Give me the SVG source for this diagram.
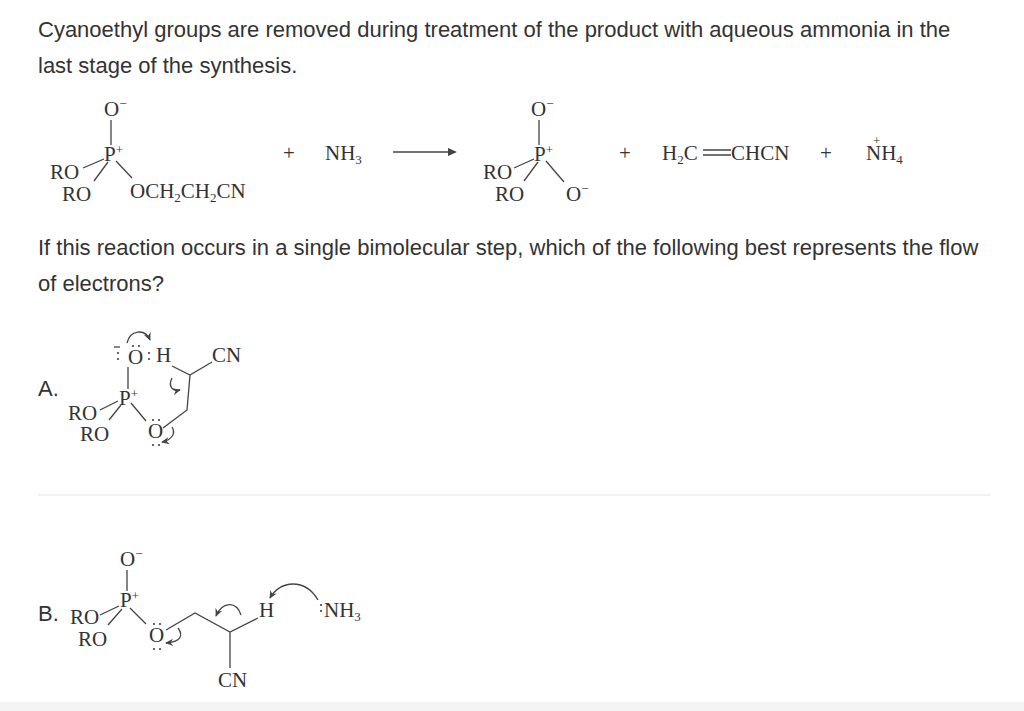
<svg xmlns="http://www.w3.org/2000/svg" width="1024" height="711" viewBox="0 0 1024 711">
<defs>
<style>
.q{font-family:"Liberation Sans",Arial,sans-serif;font-size:22px;fill:#333}
.c{font-family:"Liberation Serif","Times New Roman",serif;font-size:21px;fill:#333}
.s{font-size:13px}
.b{stroke:#444;stroke-width:1.3;fill:none}
.a{stroke:#444;stroke-width:1.3;fill:none;marker-end:url(#h)}
.d{fill:#444}
</style>
<marker id="h" viewBox="0 0 10 10" refX="8" refY="5" markerWidth="7" markerHeight="7" orient="auto"><path d="M0,1 L9,5 L0,9 L3,5 Z" fill="#444"/></marker>
</defs>
<rect width="1024" height="711" fill="#fff"/>
<rect y="702" width="1024" height="9" fill="#f4f4f4"/>
<g id="question-text">
<text class="q" x="38" y="37">Cyanoethyl groups are removed during treatment of the product with aqueous ammonia in the</text>
<text class="q" x="38" y="73">last stage of the synthesis.</text>
<text class="q" x="38" y="255">If this reaction occurs in a single bimolecular step, which of the following best represents the flow</text>
<text class="q" x="38" y="291">of electrons?</text>
<text class="q" x="38" y="396">A.</text>
<text class="q" x="38" y="621">B.</text>
</g>
<g id="reactant">
<text class="c" x="104" y="116">O<tspan class="s" dy="-8">−</tspan></text>
<text class="c" x="104" y="161">P<tspan class="s" dy="-7">+</tspan></text>
<text class="c" x="50" y="179">RO</text>
<text class="c" x="62" y="201">RO</text>
<text class="c" x="130" y="198">OCH<tspan class="s" dy="4">2</tspan><tspan dy="-4">CH</tspan><tspan class="s" dy="4">2</tspan><tspan dy="-4">CN</tspan></text>
<path class="b" d="M111,120 V145 M104,159 L83,168 M108,162 L94,181 M116,161 L132,178"/>
</g>
<g id="reagent"><text class="c" x="283" y="160" font-size="22">+</text><text class="c" x="325" y="160">NH<tspan class="s" dy="4">3</tspan></text></g>
<g id="product">
<text class="c" x="531" y="116">O<tspan class="s" dy="-8">−</tspan></text>
<text class="c" x="534" y="161">P<tspan class="s" dy="-7">+</tspan></text>
<text class="c" x="483" y="179">RO</text>
<text class="c" x="495" y="201">RO</text>
<text class="c" x="566" y="201">O<tspan class="s" dy="-8">−</tspan></text>
<path class="b" d="M539,120 V145 M534,159 L514,168 M538,162 L524,181 M546,161 L564,182"/>
</g>
<g id="byproducts">
<text class="c" x="619" y="160" font-size="22">+</text>
<text class="c" x="662" y="160">H<tspan class="s" dy="4">2</tspan><tspan dy="-4">C</tspan></text>
<path class="b" d="M703,150 H731 M703,155 H731"/>
<text class="c" x="731" y="160">CHCN</text>
<text class="c" x="820" y="160" font-size="22">+</text>
<text class="c" x="866" y="160">NH<tspan class="s" dy="4">4</tspan></text>
<text class="c s" x="873" y="145">+</text>
</g>
<g id="optionA">
<text class="c" x="128" y="364">O</text>
<path class="b" d="M114,347 H120"/>
<circle class="d" cx="118" cy="353" r="1.1"/><circle class="d" cx="118" cy="359" r="1.1"/>
<circle class="d" cx="133" cy="346" r="1.1"/><circle class="d" cx="139" cy="346" r="1.1"/>
<circle class="d" cx="149" cy="353" r="1.1"/><circle class="d" cx="149" cy="359" r="1.1"/>
<text class="c" x="156" y="362">H</text>
<text class="c" x="212" y="362">CN</text>
<text class="c" x="119" y="405">P<tspan class="s" dy="-7">+</tspan></text>
<text class="c" x="68" y="420">RO</text>
<text class="c" x="80" y="441">RO</text>
<text class="c" x="148" y="438">O</text>
<circle class="d" cx="153" cy="420" r="1.1"/><circle class="d" cx="159" cy="420" r="1.1"/>
<circle class="d" cx="153" cy="445" r="1.1"/><circle class="d" cx="159" cy="445" r="1.1"/>
<path class="b" d="M128,367 V389 M118,401 L100,410 M121,405 L109,420 M131,403 L146,421 M172,366 L190,375 L212,362 M190,375 L187,410 L163,428"/>
<path class="a" d="M127,343 C130,330 145,328 150,340"/>
<path class="a" d="M172,378 C168,386 172,392 180,390"/>
<path class="a" d="M172,427 C176,433 172,440 162,442"/>
</g>
<g id="optionB">
<text class="c" x="120" y="566">O<tspan class="s" dy="-8">−</tspan></text>
<text class="c" x="120" y="607">P<tspan class="s" dy="-7">+</tspan></text>
<text class="c" x="70" y="624">RO</text>
<text class="c" x="78" y="646">RO</text>
<text class="c" x="149" y="642">O</text>
<circle class="d" cx="154" cy="624" r="1.1"/><circle class="d" cx="160" cy="624" r="1.1"/>
<circle class="d" cx="154" cy="649" r="1.1"/><circle class="d" cx="160" cy="649" r="1.1"/>
<text class="c" x="259" y="617">H</text>
<circle class="d" cx="321" cy="605" r="1.1"/><circle class="d" cx="321" cy="611" r="1.1"/>
<text class="c" x="324" y="617">NH<tspan class="s" dy="4">3</tspan></text>
<text class="c" x="218" y="687">CN</text>
<path class="b" d="M127,570 V591 M119,606 L100,615 M122,609 L108,625 M130,608 L146,624 M166,630 L195,613 L230,632 L258,618 M230,632 V668"/>
<path class="a" d="M318,600 C305,578 280,580 270,598"/>
<path class="a" d="M241,615 C236,600 222,602 216,616"/>
<path class="a" d="M178,628 C184,636 180,642 166,643"/>
</g>
<g id="connectors">
<path class="b" d="M393,152 H455"/>
<path d="M448,148 L457,152 L448,156 Z" fill="#444"/>
</g>
<line x1="38" y1="495" x2="990" y2="495" stroke="#e2e2e2" stroke-width="1"/>
</svg>
